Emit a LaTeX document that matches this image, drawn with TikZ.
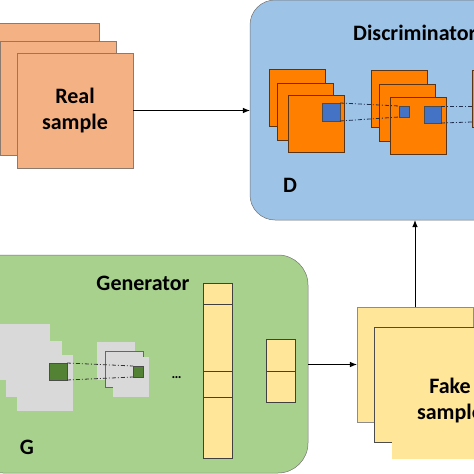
\documentclass[tikz,border=0pt]{standalone}
\usepackage{fontspec}
\setmainfont{Carlito}
\usetikzlibrary{arrows.meta}
\definecolor{realfill}{HTML}{F4B183}
\definecolor{realedge}{HTML}{8C7A6E}
\definecolor{discfill}{HTML}{9DC3E6}
\definecolor{orangefill}{HTML}{FF7F00}
\definecolor{orangeedge}{HTML}{5A3414}
\definecolor{tanfill}{HTML}{C09A78}
\definecolor{bluefill}{HTML}{4472C4}
\definecolor{genfill}{HTML}{A9D18E}
\definecolor{grayfill}{HTML}{D9D9D9}
\definecolor{darkgreen}{HTML}{548235}
\definecolor{fakefill}{HTML}{FFE699}
\definecolor{navy}{HTML}{1F2F50}

\begin{document}
\begin{tikzpicture}[
    x=1pt, y=-1pt,
    >={Latex[width=2mm,length=2.5mm]},
        base/.style = {rectangle, inner sep=0pt, outer sep=0pt, line width=0.5pt},
        titletext/.style = {inner sep=0pt, align=center,
                    font=\bfseries\fontsize{22}{26}\selectfont},
        realsheet/.style = {base, fill=realfill, draw=realedge,
                    minimum width=116, minimum height=115},
        fakesheet/.style = {base, fill=fakefill, minimum width=116, minimum height=115},
        orangesheet/.style = {base, fill=orangefill, draw=orangeedge,
                    minimum width=56, minimum height=57},
        graysheet/.style = {base, fill=grayfill, minimum width=56, minimum height=56},
        kernel/.style = {base, draw=black!70},
        cell/.style = {base, fill=fakefill, draw=black!75, minimum width=29},
        panel/.style = {base, rounded corners=25pt, draw=black!55},
        link/.style = {draw, line width=1pt, ->},
        fmap/.style = {line width=0.8pt, dash pattern=on 4pt off 2pt on 1pt off 2pt}]
    \useasboundingbox (0,0) rectangle (474,474);
    \clip (0,0) rectangle (474,474);

    % discriminator
    \node (disc) [panel, fill=discfill, minimum width=270, minimum height=220] at (385,110) {};
    \node (disctitle) [titletext, anchor=west] at (353,33) {Discriminator};
    \node (dlabel) [titletext] at (290,185) {D};
    \node (o13) [orangesheet] at (297,97.5) {};
    \node (o12) [orangesheet] at (305.5,111.5) {};
    \node (o11) [orangesheet] at (316,123.5) {};
    \node (b1) [kernel, fill=bluefill, minimum width=18, minimum height=18] at (331,112) {};
    \node (o23) [orangesheet] at (399,99) {};
    \node (o22) [orangesheet] at (407.5,113) {};
    \node (o21) [orangesheet] at (418.5,126) {};
    \node (b2) [kernel, fill=bluefill, minimum width=10, minimum height=11] at (404,111.5) {};
    \node (b3) [kernel, fill=bluefill, minimum width=17, minimum height=17] at (432.5,114.5) {};
    \node (o33) [orangesheet, fill=tanfill] at (500,98.5) {};
    \coordinate (e1) at (472,106);
    \coordinate (e2) at (472,122);
    \draw[fmap, navy] (b1.north east) -- (b2.north west);
    \draw[fmap, navy] (b1.south east) -- (b2.south west);
    \draw[fmap, navy] (b3.north east) -- (e1);
    \draw[fmap, navy] (b3.south east) -- (e2);

    % generator
    \node (gen) [panel, rounded corners=30pt, fill=genfill, minimum width=335, minimum height=218] at (140.5,364) {};
    \node (gentitle) [titletext] at (143,283) {Generator};
    \node (glabel) [titletext] at (27,447) {G};
    \node (g13) [graysheet] at (22,351.5) {};
    \node (g12) [graysheet] at (34,369) {};
    \node (g11) [graysheet] at (45,382.5) {};
    \node (s1) [kernel, fill=darkgreen, minimum width=18, minimum height=17] at (58,371.5) {};
    \node (g23) [graysheet, minimum width=38, minimum height=38] at (116,361) {};
    \node (g22) [graysheet, draw=black!60, minimum width=38, minimum height=36] at (124,369) {};
    \node (g21) [graysheet, minimum width=36, minimum height=40] at (131,377) {};
    \node (s2) [kernel, fill=darkgreen, minimum width=10, minimum height=11] at (138,371.5) {};
    \draw[fmap, black!80] (s1.north east) -- (s2.north west);
    \draw[fmap, black!80] (s1.south east) -- (s2.south west);
    \node (dots) [inner sep=0pt, anchor=base, font=\bfseries\fontsize{14}{14}\selectfont] at (176.5,378) {\dots};
    \foreach \name/\y/\h in {c1/293.5/21, c2/337.5/67, c3/384/26, c4/427.5/61}
        \node (\name) [cell, minimum height=\h] at (217.5,\y) {};
    \node (z1) [cell, minimum height=32] at (280.5,355) {};
    \node (z2) [cell, minimum height=31] at (280.5,386.5) {};

    % samples
    \node (real3) [realsheet, minimum height=132] at (41,89) {};
    \node (real2) [realsheet, minimum height=114] at (58,98) {};
    \node (real1) [realsheet, titletext] at (75,110.5) {Real\\sample};
    \node (fake3) [fakesheet, draw=black!45] at (415,364.5) {};
    \node (fake2) [fakesheet, draw=black!70] at (432,384.5) {};
    \node (fake1) [fakesheet, titletext] at (450,401) {Fake\\sample};

    \draw[link] (real1.east) -- (disc.west |- real1.east);
    \draw[link] (gen.east |- fake3.west) -- (fake3.west);
    \draw[link] (fake3.north) -- (fake3.north |- disc.south);
\end{tikzpicture}
\end{document}
